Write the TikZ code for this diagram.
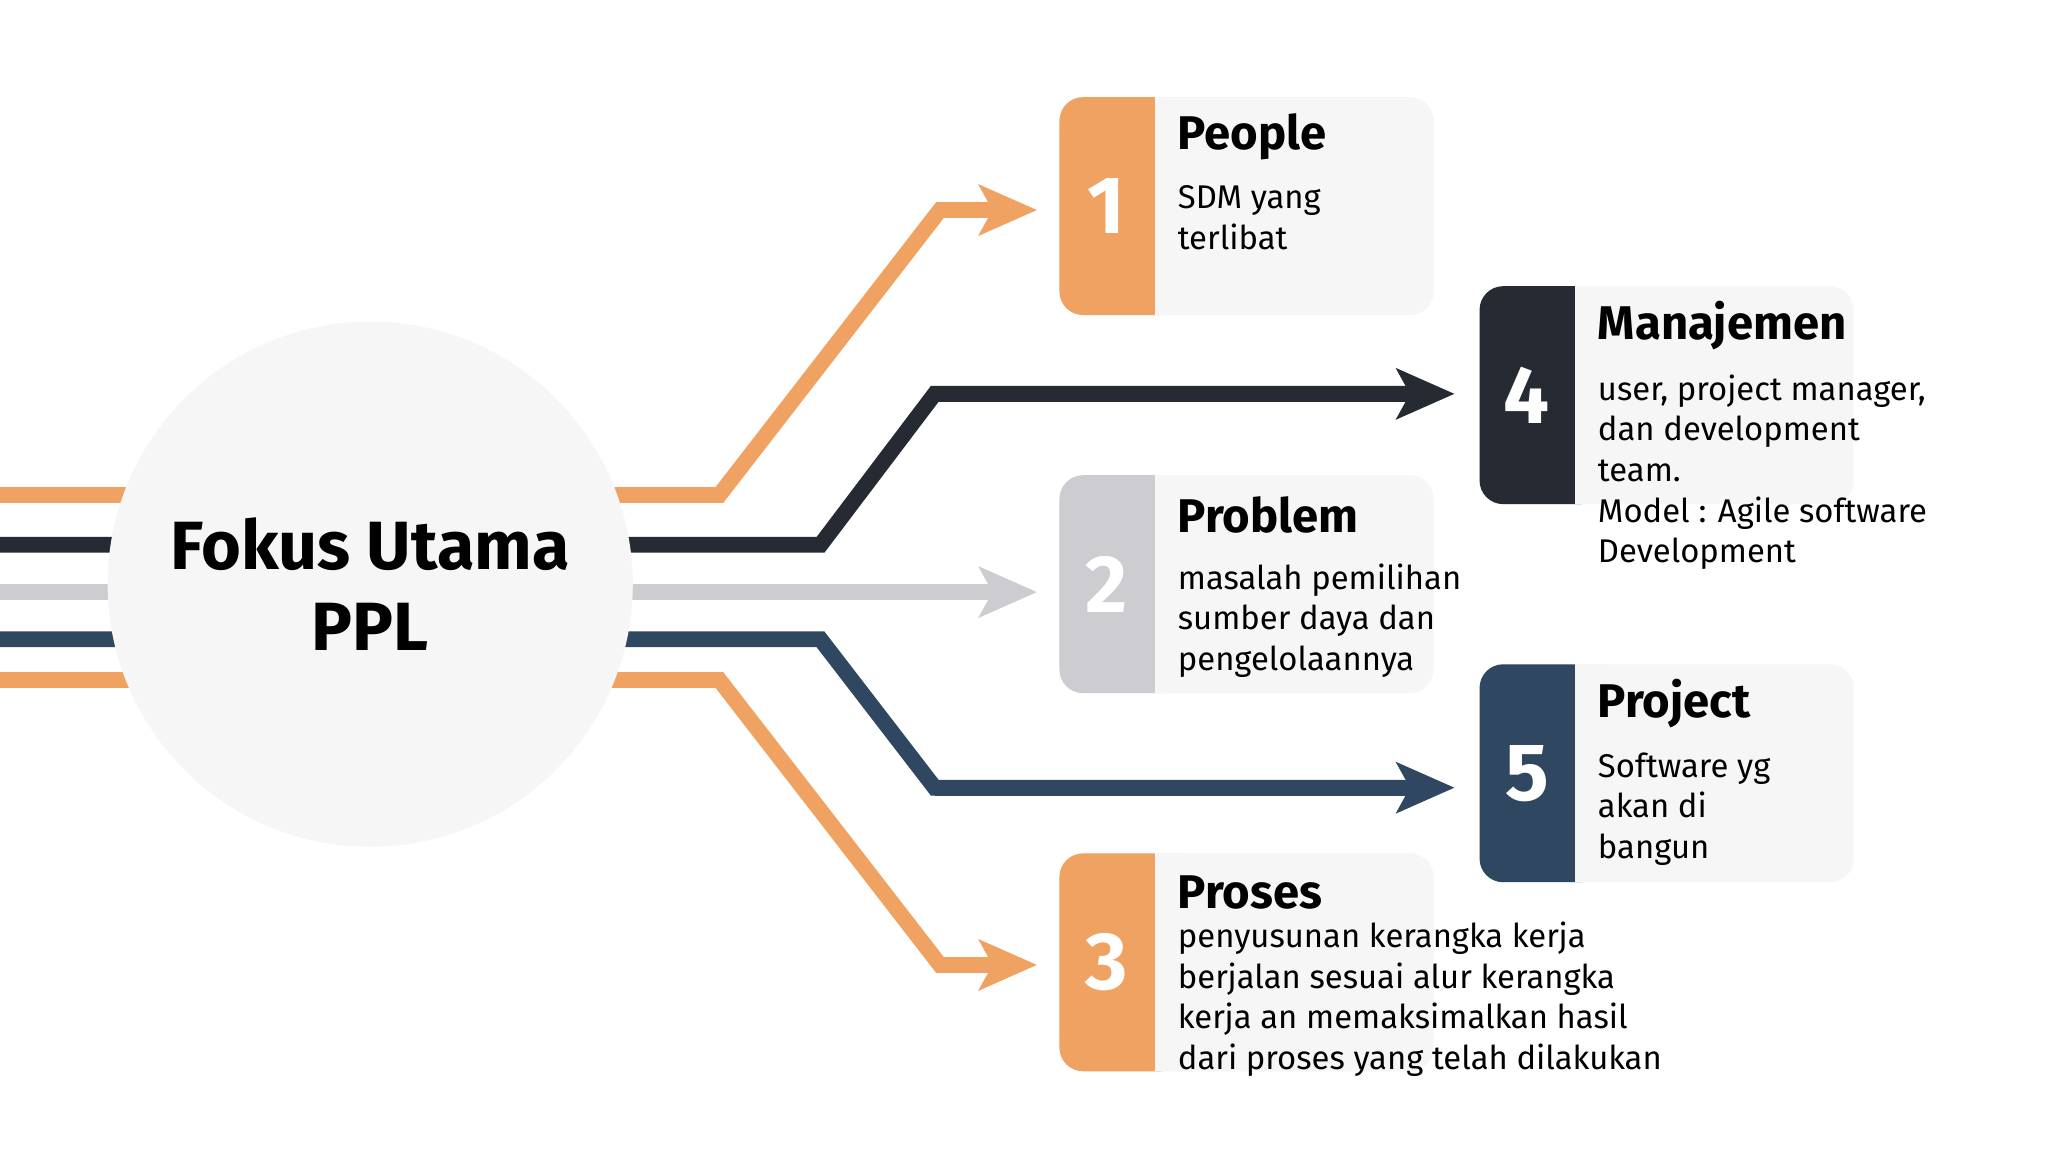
\documentclass[tikz,border=0pt]{standalone}
\usepackage{fontspec}
\setmainfont{Fira Sans}
\usetikzlibrary{arrows.meta}
\definecolor{cor}{HTML}{F0A262}
\definecolor{cdk}{HTML}{262B33}
\definecolor{cgr}{HTML}{CDCCD0}
\definecolor{cnv}{HTML}{2F4760}
\definecolor{cbg}{HTML}{F6F6F7}
\tikzset{
 conn/.style={line width=12pt},
 tipc/.style={-{Stealth[length=44pt,width=38pt,inset=10pt]}},
 ttl/.style={anchor=west,font=\fontsize{36}{40}\selectfont\bfseries,inner sep=0},
 dsc/.style={anchor=north west,align=left,font=\fontsize{25}{31}\selectfont,inner sep=0},
 num/.style={text=white,font=\fontsize{62}{62}\selectfont\bfseries,inner sep=0},
}
\newcommand{\mybox}[7]{% x y color num title descoffset desc
 \fill[cbg,rounded corners=18pt] (#1,#2) rectangle ++(285,166);
 \fill[#3,rounded corners=18pt] (#1,#2) rectangle ++(95,166);
 \fill[cbg] (#1+73,#2) rectangle ++(25,166);
 \node[num] (n#4) at (#1+36,#2+83) {#4};
 \node[ttl] (t#4) at (#1+90,#2+30) {#5};
 \node[dsc] (d#4) at (#1+90,#2+#6) {#7};
}
\begin{document}
\begin{tikzpicture}[x=1pt,y=-1pt]
\useasboundingbox (0,0) rectangle (1560,877.5);
\fill[white] (0,0) rectangle (1560,877.5);
\coordinate (lo1) at (0,377); \coordinate (ld) at (0,415); \coordinate (lg) at (0,451);
\coordinate (ln) at (0,487); \coordinate (lo2) at (0,518);
\draw[conn,cor] (lo1) -- (548,377) -- (716,160) -- (750,160);
\draw[conn,cdk] (ld) -- (625,415) -- (712,300) -- (1070,300);
\draw[conn,cgr] (lg) -- (750,451);
\draw[conn,cnv] (ln) -- (625,487) -- (712,600) -- (1070,600);
\draw[conn,cor] (lo2) -- (548,518) -- (716,735) -- (750,735);
\node[circle,fill=cbg,minimum size=400pt,inner sep=0] (c) at (282,445) {};
\node[align=center,font=\fontsize{52}{62}\selectfont\bfseries] (ct) at (282,445) {Fokus Utama\\PPL};
\coordinate (a1) at (790,160); \coordinate (a4) at (1108,300); \coordinate (a2) at (790,451);
\coordinate (a5) at (1108,600); \coordinate (a3) at (790,735);
\draw[conn,cor,tipc] (716,160) -- (a1);
\draw[conn,cdk,tipc] (712,300) -- (a4);
\draw[conn,cgr,tipc] (560,451) -- (a2);
\draw[conn,cnv,tipc] (712,600) -- (a5);
\draw[conn,cor,tipc] (716,735) -- (a3);
\mybox{807}{74}{cor}{1}{People}{67}{SDM yang\\terlibat}
\mybox{807}{362}{cgr}{2}{Problem}{67}{masalah pemilihan\\sumber daya dan\\pengelolaannya}
\mybox{807}{650}{cor}{3}{Proses}{52}{penyusunan kerangka kerja\\berjalan sesuai alur kerangka\\kerja an memaksimalkan hasil\\dari proses yang telah dilakukan}
\mybox{1127}{218}{cdk}{4}{Manajemen}{67}{user, project manager,\\dan development\\team.\\Model : Agile software\\Development}
\mybox{1127}{506}{cnv}{5}{Project}{67}{Software yg\\akan di\\bangun}
\end{tikzpicture}
\end{document}
